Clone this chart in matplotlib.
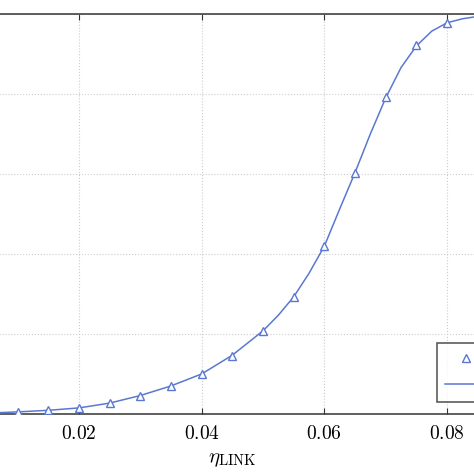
import matplotlib
matplotlib.use("Agg")
import matplotlib.pyplot as plt
from matplotlib.ticker import FixedLocator, FuncFormatter

plt.rcParams['mathtext.fontset'] = 'cm'
plt.rcParams['font.family'] = ['DejaVu Serif']

# Simulated points (triangles)
eta_sim = [0.010, 0.015, 0.020, 0.025, 0.030, 0.035, 0.040, 0.045, 0.050,
           0.055, 0.060, 0.065, 0.070, 0.075, 0.080]
p_sim = [0.004, 0.009, 0.013, 0.027, 0.045, 0.069, 0.099, 0.145, 0.207,
         0.292, 0.419, 0.603, 0.792, 0.922, 0.978]

# Analytical curve (line)
eta_th = [0.005, 0.010, 0.015, 0.020, 0.025, 0.030, 0.035, 0.040, 0.045, 0.050,
          0.0525, 0.055, 0.0575, 0.060, 0.0625, 0.065, 0.0675, 0.070, 0.0725,
          0.075, 0.0775, 0.080, 0.0825, 0.085, 0.090]
p_th = [0.001, 0.004, 0.008, 0.014, 0.026, 0.045, 0.069, 0.099, 0.146, 0.207,
        0.246, 0.292, 0.351, 0.419, 0.512, 0.603, 0.700, 0.790, 0.866,
        0.920, 0.957, 0.978, 0.988, 0.994, 0.998]

xticks = [0.02, 0.04, 0.06, 0.08]
yticks = [0.0, 0.2, 0.4, 0.6, 0.8, 1.0]

color = '#5a78d2'

fig = plt.figure(figsize=(4.74, 4.74), dpi=100)
W = 474.0
x0_px = -43.7
x1_px = 508.4
yb_px = 413.5
yt_px = 14.0
ax = fig.add_axes([x0_px / W, (W - yb_px) / W, (x1_px - x0_px) / W, (yb_px - yt_px) / W])

ax.plot(eta_th, p_th, '-', color=color, lw=1.1, label='Theory', zorder=3)
ax.plot(eta_sim, p_sim, linestyle='none', marker='^', markersize=6,
        markerfacecolor='white', markeredgecolor=color, markeredgewidth=1.0,
        label='Simulation', zorder=4)

ax.set_xlim(0, 0.09)
ax.set_ylim(0, 1)
ax.xaxis.set_major_locator(FixedLocator(xticks))
ax.yaxis.set_major_locator(FixedLocator(yticks))
ax.xaxis.set_major_formatter(FuncFormatter(lambda v, p: r'$%.2f$' % v))
ax.tick_params(axis='both', direction='in', length=4, width=0.8, color='#333333',
               top=True, right=True, labelsize=14)
ax.tick_params(axis='y', labelleft=False)
ax.tick_params(axis='x', pad=8)
ax.grid(True, linestyle=':', color='#cccccc', linewidth=0.8)
for s in ax.spines.values():
    s.set_color('#333333')
    s.set_linewidth(1.1)

ax.set_xlabel(r'$\eta_{\mathrm{LINK}}$', fontsize=15, labelpad=5)

handles, labels = ax.get_legend_handles_labels()
leg = ax.legend(handles[::-1], labels[::-1], loc='lower left',
                bbox_to_anchor=(0.870, 0.0295), fontsize=12, frameon=True,
                fancybox=False, borderpad=0.5, labelspacing=0.5,
                handlelength=2.5, borderaxespad=0)
leg.get_frame().set_edgecolor('#222222')
leg.get_frame().set_linewidth(1.1)

fig.savefig('out.png', dpi=100)
